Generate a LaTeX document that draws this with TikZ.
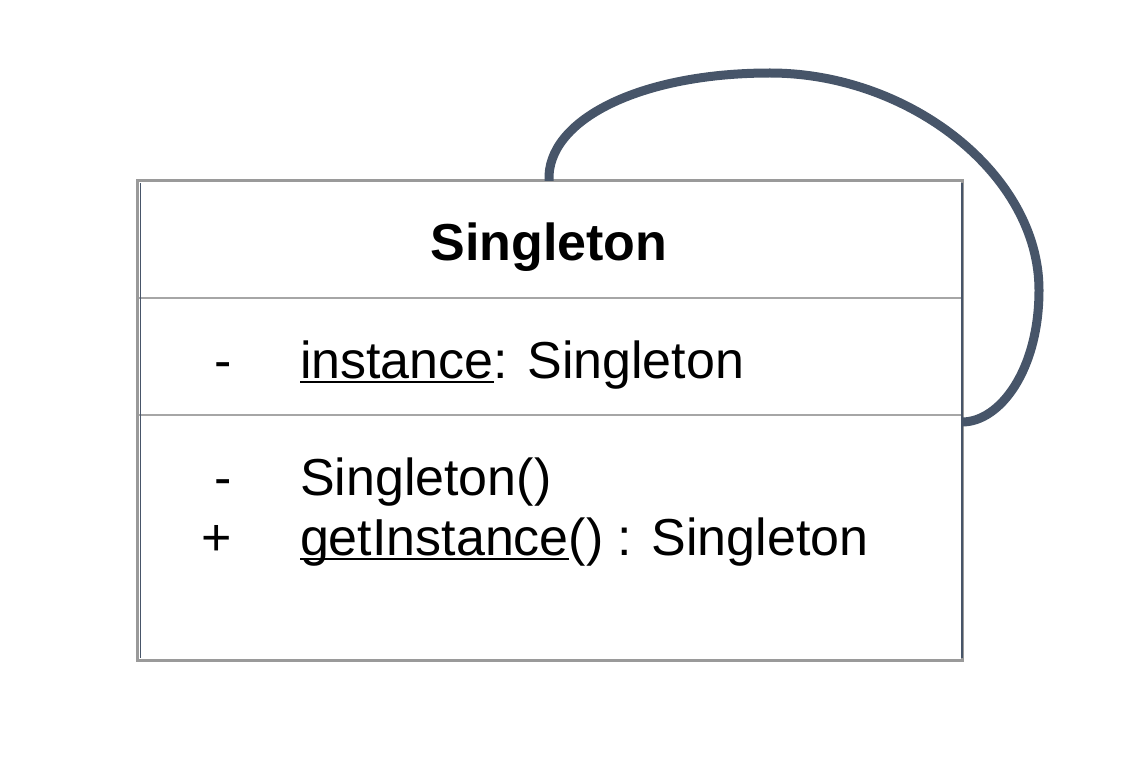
\documentclass[tikz,border=0pt]{standalone}
\usepackage{fontspec}
\setmainfont{Liberation Sans}
\usetikzlibrary{calc}
\definecolor{slate}{RGB}{71,85,105}
\definecolor{boxgray}{RGB}{154,154,154}
\definecolor{divgray}{RGB}{166,166,166}
\begin{document}
\begin{tikzpicture}[x=1pt,y=-1pt,
  txt/.style={inner sep=0pt,outer sep=0pt,font=\fontsize{52}{60}\selectfont},
  uline/.style={line width=2.6pt,black},
  selfloop/.style={draw=slate,line width=9pt,line cap=butt}]
\useasboundingbox (0,0) rectangle (1146,762);
% class box
\coordinate (tl) at (137,181);
\coordinate (br) at (962,660);
\draw[divgray,line width=2.2pt] (137,298) -- (962,298);
\draw[divgray,line width=2.2pt] (137,415) -- (962,415);
\draw[boxgray,line width=3pt] (tl) rectangle (br);
\draw[slate,line width=1.2pt] (140.5,183) -- (140.5,658);
\draw[slate,line width=1.2pt] (962,183) -- (962,658);
% self association
\coordinate (s) at (549,181);
\coordinate (e) at (962,422);
\path[selfloop] (s) .. controls (546,120) and (640,73) .. (770,73)
  .. controls (910,73) and (1039,175) .. (1039,290)
  .. controls (1039,370) and (1000,422) .. (e);
% texts
\node[txt,anchor=base,font=\fontsize{52}{60}\selectfont\bfseries] (title) at (549,260) {Singleton};
\node[txt,anchor=base east] (v1) at (232,378) {-};
\node[txt,anchor=base west] (a1) at (300,378) {instance};
\node[txt,anchor=base west] (a1t) at (a1.base east) {: Singleton};
\draw[uline] ($(a1.base west)+(0,4)$) -- ($(a1.base east)+(0,4)$);
\node[txt,anchor=base east] (v2) at (232,495) {-};
\node[txt,anchor=base west] (m1) at (300,495) {Singleton()};
\node[txt,anchor=base east] (v3) at (232,555) {+};
\node[txt,anchor=base west] (m2) at (300,555) {getInstance};
\node[txt,anchor=base west] (m2t) at (m2.base east) {() : Singleton};
\draw[uline] ($(m2.base west)+(0,4)$) -- ($(m2.base east)+(0,4)$);
\end{tikzpicture}
\end{document}
